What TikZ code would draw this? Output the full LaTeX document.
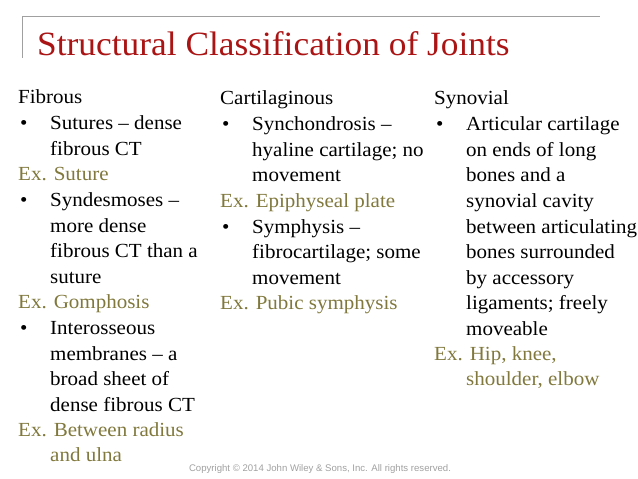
\documentclass[tikz,border=0pt]{standalone}
\usepackage{fontspec}
\setmainfont{Liberation Serif}
\newfontfamily\cpfont{Liberation Sans}
\definecolor{ttl}{RGB}{170,20,20}
\definecolor{ex}{RGB}{128,120,60}
\definecolor{gl}{RGB}{160,160,160}
\begin{document}
\begin{tikzpicture}[x=1pt,y=-1pt,
  t/.style={anchor=base west,inner sep=0pt,font=\fontsize{20}{22}\selectfont,xscale=1.05},
  e/.style={t,text=ex},
  b/.style={t}]
\useasboundingbox (0,0) rectangle (638,479);
\draw[gl,line width=1pt] (22,58) -- (22,16) -- (600,16);
\node[anchor=base west,inner sep=0pt,text=ttl,font=\fontsize{34}{36}\selectfont,xscale=1.04] (title) at (37,56) {Structural Classification of Joints};
% column 1
\node[t] (f0) at (18,103) {Fibrous};
\node[b] (f1b) at (20,129) {•}; \node[t] (f1) at (50,129) {Sutures – dense};
\node[t] (f2) at (50,155) {fibrous CT};
\node[e] (f3) at (18,180) {Ex. Suture};
\node[b] (f4b) at (20,206) {•}; \node[t] (f4) at (50,206) {Syndesmoses –};
\node[t] (f5) at (50,232) {more dense};
\node[t] (f6) at (50,257) {fibrous CT than a};
\node[t] (f7) at (50,283) {suture};
\node[e] (f8) at (18,308) {Ex. Gomphosis};
\node[b] (f9b) at (20,334) {•}; \node[t] (f9) at (50,334) {Interosseous};
\node[t] (f10) at (50,360) {membranes – a};
\node[t] (f11) at (50,385) {broad sheet of};
\node[t] (f12) at (50,411) {dense fibrous CT};
\node[e] (f13) at (18,436) {Ex. Between radius};
\node[e] (f14) at (50,461) {and ulna};
% column 2
\node[t] (c0) at (220,104) {Cartilaginous};
\node[b] (c1b) at (222,130) {•}; \node[t] (c1) at (252,130) {Synchondrosis –};
\node[t] (c2) at (252,156) {hyaline cartilage; no};
\node[t] (c3) at (252,181) {movement};
\node[e] (c4) at (220,207) {Ex. Epiphyseal plate};
\node[b] (c5b) at (222,233) {•}; \node[t] (c5) at (252,233) {Symphysis –};
\node[t] (c6) at (252,258) {fibrocartilage; some};
\node[t] (c7) at (252,284) {movement};
\node[e] (c8) at (220,309) {Ex. Pubic symphysis};
% column 3
\node[t] (s0) at (434,104) {Synovial};
\node[b] (s1b) at (436,130) {•}; \node[t] (s1) at (466,130) {Articular cartilage};
\node[t] (s2) at (466,156) {on ends of long};
\node[t] (s3) at (466,181) {bones and a};
\node[t] (s4) at (466,207) {synovial cavity};
\node[t] (s5) at (466,233) {between articulating};
\node[t] (s6) at (466,258) {bones surrounded};
\node[t] (s7) at (466,284) {by accessory};
\node[t] (s8) at (466,309) {ligaments; freely};
\node[t] (s9) at (466,335) {moveable};
\node[e] (s10) at (434,360) {Ex. Hip, knee,};
\node[e] (s11) at (466,385) {shoulder, elbow};
\node[anchor=base,inner sep=0pt,text=gl,font=\cpfont\fontsize{9.6}{11}\selectfont] (cp) at (320,471) {Copyright © 2014 John Wiley \& Sons, Inc. All rights reserved.};
\end{tikzpicture}
\end{document}
